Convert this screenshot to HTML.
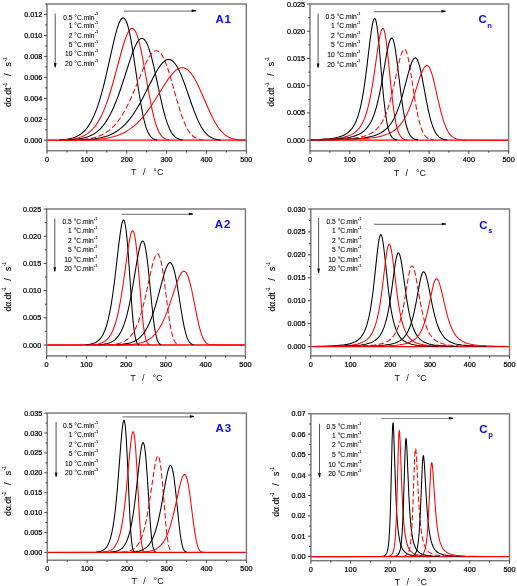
<!DOCTYPE html>
<html><head><meta charset="utf-8"><style>html,body{margin:0;padding:0;background:#fff;}svg{display:block;}text{white-space:pre;}</style></head>
<body><svg width="517" height="586" viewBox="0 0 517 586" font-family="Liberation Sans, Arial, sans-serif">
<rect width="517" height="586" fill="#fff"/>
<g id="A1"><line x1="47.0" y1="140.20" x2="246.3" y2="140.20" stroke="#f00" stroke-width="1.3"/>
<polyline points="58.96,139.90 65.34,139.40 68.13,138.99 70.52,138.52 72.71,137.94 74.90,137.20 76.89,136.34 78.89,135.28 80.68,134.12 82.48,132.73 84.07,131.27 85.66,129.57 87.26,127.60 88.65,125.65 90.25,123.10 91.64,120.59 94.23,115.15 96.63,109.14 99.02,102.12 101.61,93.36 103.80,85.03 105.99,75.98 113.96,40.67 115.56,34.28 117.15,28.61 118.75,23.91 119.55,21.99 120.34,20.40 121.14,19.18 121.74,18.51 122.53,17.98 123.13,17.86 123.73,17.99 124.13,18.22 124.93,19.03 125.72,20.30 126.52,22.04 127.32,24.26 128.12,26.93 128.91,30.06 129.91,34.56 131.30,41.88 132.90,51.45 138.48,89.22 140.67,102.98 142.86,114.70 144.06,120.05 145.06,123.92 146.25,127.85 147.45,131.06 148.64,133.61 150.04,135.85 151.43,137.44 153.03,138.64 154.82,139.43 157.01,139.91" fill="none" stroke="#000" stroke-width="1.05"/>
<polyline points="63.34,139.90 70.12,139.40 73.11,139.01 75.70,138.54 78.09,137.96 80.28,137.29 82.48,136.44 84.47,135.50 86.46,134.35 88.26,133.13 90.05,131.68 91.64,130.20 93.24,128.51 94.83,126.58 96.43,124.40 98.02,121.94 100.81,116.92 103.40,111.36 105.99,104.89 108.58,97.48 110.78,90.51 113.17,82.26 122.14,48.99 123.93,43.01 125.52,38.28 127.32,33.85 128.91,30.88 129.71,29.80 130.51,29.00 131.30,28.52 132.10,28.36 132.70,28.45 133.10,28.63 133.89,29.24 134.89,30.50 135.69,31.91 136.49,33.68 137.48,36.39 138.48,39.63 139.48,43.37 141.07,50.30 142.86,59.26 148.84,92.90 151.23,105.43 152.63,111.95 153.82,116.97 155.02,121.42 156.22,125.29 157.41,128.58 158.81,131.73 160.20,134.19 161.80,136.29 163.39,137.76 164.99,138.74 166.98,139.48 169.17,139.90" fill="none" stroke="#f00" stroke-width="1.05"/>
<polyline points="67.93,139.91 75.10,139.43 78.09,139.08 80.88,138.64 83.47,138.09 85.86,137.45 88.06,136.72 90.25,135.82 92.24,134.84 94.23,133.69 96.23,132.32 98.02,130.89 99.81,129.25 101.41,127.60 103.20,125.51 104.80,123.42 107.79,118.88 110.58,113.84 113.37,107.99 116.16,101.31 118.55,94.96 121.14,87.51 130.91,57.32 132.90,51.78 134.69,47.36 136.69,43.28 137.68,41.63 138.48,40.53 139.48,39.45 140.27,38.84 141.07,38.45 141.87,38.32 142.86,38.50 143.86,39.09 144.86,40.10 145.85,41.53 146.85,43.38 147.85,45.64 148.84,48.30 150.04,51.99 151.83,58.44 153.82,66.68 160.40,97.18 162.99,108.36 164.39,113.76 165.78,118.64 167.18,122.94 168.37,126.16 169.77,129.37 171.36,132.36 172.96,134.70 174.55,136.45 176.35,137.86 178.14,138.81 180.33,139.50 182.72,139.90" fill="none" stroke="#000" stroke-width="1.05"/>
<polyline points="74.90,139.90 82.28,139.46 88.45,138.74 91.24,138.25 93.84,137.68 96.23,137.02 98.62,136.22 100.81,135.34 103.00,134.31 105.20,133.09 107.19,131.81 109.18,130.35 110.98,128.86 112.77,127.19 114.56,125.33 117.75,121.51 120.94,117.00 124.13,111.76 127.32,105.78 130.11,99.97 132.90,93.69 143.66,67.83 146.05,62.66 148.05,58.83 150.24,55.31 151.43,53.75 152.43,52.67 153.43,51.81 154.42,51.18 155.42,50.80 156.42,50.68 157.61,50.89 158.81,51.49 159.80,52.30 161.00,53.65 162.20,55.40 163.39,57.55 164.59,60.08 165.78,62.96 167.78,68.49 169.97,75.42 177.54,102.26 180.53,112.11 182.13,116.83 183.72,121.09 185.31,124.85 186.71,127.73 188.30,130.54 190.10,133.14 191.89,135.18 193.68,136.73 195.68,137.98 197.87,138.90 200.26,139.52 203.05,139.90" fill="none" stroke="#f00" stroke-width="1.05" stroke-dasharray="5.5 2.5"/>
<polyline points="80.48,139.90 88.26,139.49 94.83,138.81 100.61,137.81 105.59,136.50 107.99,135.68 110.38,134.72 112.57,133.69 114.76,132.50 116.75,131.28 118.75,129.90 120.74,128.36 122.73,126.64 126.32,123.06 129.71,119.07 133.10,114.46 136.49,109.24 139.48,104.14 142.66,98.27 154.42,75.15 157.01,70.55 159.21,67.08 160.60,65.13 161.80,63.65 162.99,62.36 164.19,61.29 165.38,60.44 166.38,59.92 167.58,59.54 168.57,59.43 169.97,59.60 171.16,60.07 172.36,60.82 173.75,62.08 174.95,63.47 176.35,65.47 177.54,67.48 178.94,70.15 181.13,75.01 183.72,81.59 186.11,88.25 192.09,105.53 195.48,114.57 197.27,118.87 199.07,122.75 200.86,126.18 202.45,128.84 204.25,131.41 206.24,133.74 208.23,135.58 210.23,136.99 212.42,138.12 214.81,138.96 217.40,139.53 220.59,139.91" fill="none" stroke="#000" stroke-width="1.05"/>
<polyline points="47.00,140.20 69.92,140.16 82.48,140.01 92.24,139.66 100.01,139.07 103.80,138.61 107.39,138.04 110.58,137.40 113.77,136.60 116.75,135.69 119.55,134.67 122.34,133.47 124.93,132.18 129.11,129.67 131.30,128.13 133.30,126.58 137.28,123.05 141.27,118.89 143.46,116.34 145.85,113.33 150.44,106.99 155.02,99.99 165.58,83.04 168.37,78.92 170.96,75.47 172.56,73.57 174.15,71.89 175.55,70.62 176.94,69.55 178.34,68.71 179.73,68.11 181.13,67.76 182.32,67.67 183.72,67.82 185.11,68.26 186.51,68.99 187.91,70.01 189.30,71.31 190.70,72.90 192.09,74.75 193.68,77.19 196.28,81.78 199.07,87.46 201.66,93.22 208.63,109.32 210.82,114.09 212.82,118.14 215.01,122.21 217.00,125.52 219.00,128.44 221.19,131.17 223.58,133.61 225.97,135.54 228.56,137.10 231.15,138.22 234.14,139.07 237.33,139.62 241.12,139.96 246.30,140.14" fill="none" stroke="#f00" stroke-width="1.05"/>
<rect x="47.0" y="4.0" width="199.30" height="146.70" fill="none" stroke="#7c7c7c" stroke-width="1.5"/>
<path d="M47.00,150.7v3.0M66.93,150.7v1.8M86.86,150.7v3.0M106.79,150.7v1.8M126.72,150.7v3.0M146.65,150.7v1.8M166.58,150.7v3.0M186.51,150.7v1.8M206.44,150.7v3.0M226.37,150.7v1.8M246.30,150.7v3.0M47.0,140.20h-3.0M47.0,129.72h-1.8M47.0,119.25h-3.0M47.0,108.77h-1.8M47.0,98.29h-3.0M47.0,87.82h-1.8M47.0,77.34h-3.0M47.0,66.86h-1.8M47.0,56.38h-3.0M47.0,45.91h-1.8M47.0,35.43h-3.0M47.0,24.95h-1.8M47.0,14.48h-3.0M47.0,4.00h-1.8" stroke="#444" stroke-width="1.0" fill="none"/>
<g font-size="8.1" fill="#000" stroke="#000" stroke-width="0.25"><text transform="translate(47.00,161.90) scale(0.9,1)" text-anchor="middle">0</text><text transform="translate(86.86,161.90) scale(0.9,1)" text-anchor="middle">100</text><text transform="translate(126.72,161.90) scale(0.9,1)" text-anchor="middle">200</text><text transform="translate(166.58,161.90) scale(0.9,1)" text-anchor="middle">300</text><text transform="translate(206.44,161.90) scale(0.9,1)" text-anchor="middle">400</text><text transform="translate(246.30,161.90) scale(0.9,1)" text-anchor="middle">500</text><text transform="translate(42.40,142.70) scale(0.9,1)" text-anchor="end">0.000</text><text transform="translate(42.40,121.75) scale(0.9,1)" text-anchor="end">0.002</text><text transform="translate(42.40,100.79) scale(0.9,1)" text-anchor="end">0.004</text><text transform="translate(42.40,79.84) scale(0.9,1)" text-anchor="end">0.006</text><text transform="translate(42.40,58.88) scale(0.9,1)" text-anchor="end">0.008</text><text transform="translate(42.40,37.93) scale(0.9,1)" text-anchor="end">0.010</text><text transform="translate(42.40,16.98) scale(0.9,1)" text-anchor="end">0.012</text></g>
<g font-size="6.7" fill="#000" stroke="#000" stroke-width="0.08"><text x="94.50" y="19.50" text-anchor="end">0.5 °C.min</text><text x="94.70" y="15.20" font-size="3.9">-1</text><text x="94.50" y="28.20" text-anchor="end">1 °C.min</text><text x="94.70" y="23.90" font-size="3.9">-1</text><text x="94.50" y="37.50" text-anchor="end">2 °C.min</text><text x="94.70" y="33.20" font-size="3.9">-1</text><text x="94.50" y="46.80" text-anchor="end">5 °C.min</text><text x="94.70" y="42.50" font-size="3.9">-1</text><text x="94.50" y="56.30" text-anchor="end">10 °C.min</text><text x="94.70" y="52.00" font-size="3.9">-1</text><text x="94.50" y="65.90" text-anchor="end">20 °C.min</text><text x="94.70" y="61.60" font-size="3.9">-1</text></g>
<line x1="55.2" y1="13.5" x2="55.2" y2="63.7" stroke="#555" stroke-width="1.0"/><path d="M53.95,62.900000000000006L56.45,62.900000000000006L55.7,67.2L54.7,67.2Z" fill="#000"/>
<line x1="124.0" y1="11.10" x2="192.5" y2="11.10" stroke="#858585" stroke-width="1.2"/><path d="M191.7,9.55L191.7,12.05L196.0,11.3L196.0,10.3Z" fill="#000"/>
<text x="215.5" y="22.7" font-size="11.5" letter-spacing="0.8" font-weight="bold" fill="#0a0af5">A1</text>
<g font-size="9" fill="#111"><text x="131.10" y="175.2">T</text><text x="142.90" y="175.2">/</text><text x="153.30" y="175.2">°C</text></g>
<g transform="translate(11.20,107.00) rotate(-90)" fill="#000" stroke="#000" stroke-width="0.1" font-size="8.6"><text x="0" y="0">dα.dt</text><text x="19.9" y="-4.6" font-size="4.8">-1</text><text x="30.9" y="0">/</text><text x="40.6" y="0">s</text><text x="45.3" y="-4.6" font-size="4.8">-1</text></g></g>
<g id="Cn"><line x1="310.0" y1="140.20" x2="508.6" y2="140.20" stroke="#f00" stroke-width="1.3"/>
<polyline points="310.00,139.72 321.12,139.31 329.46,138.65 332.84,138.22 335.82,137.70 338.60,137.06 340.98,136.34 343.17,135.48 345.15,134.50 346.94,133.38 348.73,132.00 350.32,130.47 351.90,128.58 353.29,126.57 354.49,124.52 355.48,122.53 356.47,120.24 357.47,117.62 358.46,114.61 360.25,108.04 362.03,99.71 363.62,90.60 365.41,78.33 366.80,67.44 369.98,40.81 371.57,29.24 372.36,24.68 373.15,21.25 373.95,19.11 374.35,18.56 374.74,18.38 374.94,18.45 375.34,18.97 375.74,20.00 376.13,21.53 376.93,25.99 377.72,32.14 379.11,46.00 382.29,83.21 383.68,97.97 385.27,111.87 386.06,117.49 386.86,122.26 387.65,126.21 388.65,130.15 389.64,133.12 390.83,135.66 392.02,137.37 393.41,138.62 395.00,139.41 397.19,139.92" fill="none" stroke="#000" stroke-width="1.05"/>
<polyline points="310.00,139.81 322.71,139.46 332.24,138.90 336.22,138.51 339.59,138.06 342.57,137.52 345.35,136.87 347.93,136.08 350.32,135.13 352.30,134.12 354.29,132.86 356.08,131.45 357.66,129.92 359.25,128.06 360.64,126.09 361.83,124.11 363.03,121.80 364.22,119.12 365.21,116.55 367.20,110.33 368.98,103.29 370.77,94.68 372.56,84.40 374.35,72.61 377.72,48.73 379.31,38.90 380.30,34.03 381.10,31.11 381.69,29.56 382.09,28.86 382.49,28.44 382.89,28.30 383.28,28.50 383.68,29.10 384.08,30.10 384.48,31.48 385.27,35.32 386.06,40.46 387.65,53.76 391.03,87.15 392.62,101.43 394.21,113.27 395.00,118.17 395.99,123.34 396.99,127.53 397.98,130.85 399.17,133.84 400.36,135.98 401.75,137.65 403.14,138.71 404.93,139.48 407.12,139.92" fill="none" stroke="#f00" stroke-width="1.05"/>
<polyline points="310.00,139.87 324.70,139.56 335.42,139.07 343.56,138.34 346.94,137.87 350.12,137.28 352.90,136.61 355.48,135.80 357.86,134.85 360.05,133.74 362.03,132.49 363.82,131.11 365.61,129.43 367.20,127.61 368.59,125.72 369.78,123.84 370.97,121.69 372.16,119.21 373.35,116.36 374.35,113.67 375.54,110.03 376.53,106.61 378.52,98.64 380.50,89.10 382.29,79.29 386.26,55.91 388.05,46.86 389.04,42.93 390.04,40.05 390.63,38.90 391.03,38.38 391.43,38.08 391.82,38.00 392.22,38.18 392.62,38.67 393.01,39.46 393.61,41.19 394.41,44.46 395.40,49.93 396.99,61.13 400.56,90.65 402.35,104.17 403.34,110.71 404.34,116.46 405.13,120.47 406.12,124.76 407.12,128.29 408.31,131.65 409.50,134.19 410.89,136.31 412.28,137.74 413.87,138.79 415.66,139.47 418.04,139.91" fill="none" stroke="#000" stroke-width="1.05"/>
<polyline points="313.18,139.90 329.46,139.62 341.38,139.18 350.51,138.53 354.49,138.07 357.86,137.57 361.04,136.94 364.02,136.19 366.60,135.35 368.98,134.38 371.17,133.27 373.15,132.04 375.14,130.55 376.93,128.92 378.52,127.20 379.91,125.44 381.30,123.41 382.69,121.06 383.88,118.77 385.07,116.18 386.26,113.27 387.45,110.00 389.64,103.02 391.82,94.70 393.81,86.08 398.18,65.72 400.16,57.67 401.36,53.87 402.35,51.49 402.94,50.47 403.54,49.76 404.14,49.39 404.53,49.33 404.93,49.46 405.53,50.05 405.92,50.72 406.52,52.09 407.51,55.35 408.51,59.68 410.29,69.57 414.46,96.76 416.45,108.56 418.44,118.34 419.43,122.37 420.62,126.47 421.81,129.80 423.00,132.45 424.39,134.82 425.78,136.54 427.37,137.90 429.16,138.87 431.15,139.51 433.73,139.91" fill="none" stroke="#f00" stroke-width="1.05" stroke-dasharray="5.5 2.5"/>
<polyline points="317.55,139.90 334.63,139.63 347.34,139.21 357.07,138.58 361.24,138.16 364.81,137.69 368.19,137.11 371.37,136.42 374.15,135.64 376.73,134.74 379.11,133.71 381.30,132.55 383.28,131.28 385.27,129.76 386.86,128.32 388.45,126.65 390.04,124.71 391.43,122.76 392.82,120.54 394.01,118.39 395.40,115.59 396.59,112.89 398.97,106.65 401.55,98.56 403.74,90.73 408.51,72.49 410.69,65.25 411.88,62.11 413.07,59.75 413.67,58.91 414.26,58.30 414.86,57.94 415.46,57.83 415.85,57.92 416.45,58.37 417.05,59.17 417.64,60.31 418.63,62.93 419.83,67.14 420.82,71.39 422.01,77.17 426.38,100.64 428.56,111.33 429.76,116.43 430.95,120.92 431.94,124.19 433.13,127.56 434.52,130.77 435.91,133.30 437.30,135.24 438.89,136.87 440.48,138.01 442.47,138.94 444.65,139.54 447.23,139.90" fill="none" stroke="#000" stroke-width="1.05"/>
<polyline points="310.00,139.99 331.65,139.79 347.34,139.46 359.25,138.95 368.59,138.22 372.76,137.72 376.33,137.17 379.71,136.50 382.69,135.74 385.47,134.87 388.05,133.87 390.43,132.74 392.82,131.36 394.80,129.98 396.59,128.53 398.38,126.83 399.97,125.09 401.55,123.10 403.14,120.83 404.73,118.24 406.12,115.69 407.51,112.86 408.90,109.73 411.68,102.57 414.07,95.56 419.43,78.70 420.62,75.28 421.81,72.21 423.20,69.23 424.39,67.31 425.19,66.39 425.78,65.91 426.38,65.62 426.98,65.51 427.57,65.63 428.17,66.01 428.76,66.66 429.36,67.56 430.55,70.10 431.94,74.16 433.13,78.41 434.32,83.20 438.69,102.54 440.48,110.03 442.47,117.42 444.25,123.03 446.04,127.61 447.83,131.21 449.62,133.94 450.61,135.14 451.60,136.13 453.59,137.63 454.78,138.27 455.97,138.77 458.75,139.51 462.33,139.95 465.90,140.11 471.06,140.18 508.60,140.20" fill="none" stroke="#f00" stroke-width="1.05"/>
<rect x="310.0" y="4.0" width="198.60" height="146.90" fill="none" stroke="#7c7c7c" stroke-width="1.5"/>
<path d="M310.00,150.9v3.0M329.86,150.9v1.8M349.72,150.9v3.0M369.58,150.9v1.8M389.44,150.9v3.0M409.30,150.9v1.8M429.16,150.9v3.0M449.02,150.9v1.8M468.88,150.9v3.0M488.74,150.9v1.8M508.60,150.9v3.0M310.0,140.20h-3.0M310.0,126.58h-1.8M310.0,112.96h-3.0M310.0,99.34h-1.8M310.0,85.72h-3.0M310.0,72.10h-1.8M310.0,58.48h-3.0M310.0,44.86h-1.8M310.0,31.24h-3.0M310.0,17.62h-1.8M310.0,4.00h-3.0" stroke="#444" stroke-width="1.0" fill="none"/>
<g font-size="8.1" fill="#000" stroke="#000" stroke-width="0.25"><text transform="translate(310.00,162.10) scale(0.9,1)" text-anchor="middle">0</text><text transform="translate(349.72,162.10) scale(0.9,1)" text-anchor="middle">100</text><text transform="translate(389.44,162.10) scale(0.9,1)" text-anchor="middle">200</text><text transform="translate(429.16,162.10) scale(0.9,1)" text-anchor="middle">300</text><text transform="translate(468.88,162.10) scale(0.9,1)" text-anchor="middle">400</text><text transform="translate(508.60,162.10) scale(0.9,1)" text-anchor="middle">500</text><text transform="translate(305.10,142.70) scale(0.9,1)" text-anchor="end">0.000</text><text transform="translate(305.10,115.46) scale(0.9,1)" text-anchor="end">0.005</text><text transform="translate(305.10,88.22) scale(0.9,1)" text-anchor="end">0.010</text><text transform="translate(305.10,60.98) scale(0.9,1)" text-anchor="end">0.015</text><text transform="translate(305.10,33.74) scale(0.9,1)" text-anchor="end">0.020</text><text transform="translate(305.10,6.50) scale(0.9,1)" text-anchor="end">0.025</text></g>
<g font-size="6.7" fill="#000" stroke="#000" stroke-width="0.08"><text x="356.80" y="18.90" text-anchor="end">0.5 °C.min</text><text x="357.00" y="14.60" font-size="3.9">-1</text><text x="356.80" y="28.20" text-anchor="end">1 °C.min</text><text x="357.00" y="23.90" font-size="3.9">-1</text><text x="356.80" y="37.80" text-anchor="end">2 °C.min</text><text x="357.00" y="33.50" font-size="3.9">-1</text><text x="356.80" y="47.30" text-anchor="end">5 °C.min</text><text x="357.00" y="43.00" font-size="3.9">-1</text><text x="356.80" y="56.90" text-anchor="end">10 °C.min</text><text x="357.00" y="52.60" font-size="3.9">-1</text><text x="356.80" y="66.50" text-anchor="end">20 °C.min</text><text x="357.00" y="62.20" font-size="3.9">-1</text></g>
<line x1="318.1" y1="13.6" x2="318.1" y2="64.2" stroke="#555" stroke-width="1.0"/><path d="M316.85,63.400000000000006L319.35,63.400000000000006L318.6,67.7L317.6,67.7Z" fill="#000"/>
<line x1="373.8" y1="11.60" x2="442.2" y2="11.60" stroke="#858585" stroke-width="1.2"/><path d="M441.4,10.05L441.4,12.55L445.7,11.8L445.7,10.8Z" fill="#000"/>
<text x="478.4" y="23.3" font-size="11.4" font-weight="bold" fill="#0a0af5">C<tspan font-size="7.6" dx="0.6" dy="4.4">n</tspan></text>
<g font-size="9" fill="#111"><text x="393.80" y="175.5">T</text><text x="405.60" y="175.5">/</text><text x="416.00" y="175.5">°C</text></g>
<g transform="translate(273.90,106.80) rotate(-90)" fill="#000" stroke="#000" stroke-width="0.1" font-size="8.6"><text x="0" y="0">dα.dt</text><text x="19.9" y="-4.6" font-size="4.8">-1</text><text x="30.9" y="0">/</text><text x="40.6" y="0">s</text><text x="45.3" y="-4.6" font-size="4.8">-1</text></g></g>
<g id="A2"><line x1="46.6" y1="345.00" x2="245.4" y2="345.00" stroke="#f00" stroke-width="1.3"/>
<polyline points="85.56,344.71 89.94,344.22 91.73,343.85 93.52,343.33 95.11,342.69 96.50,341.95 97.69,341.14 98.88,340.14 100.08,338.90 101.07,337.65 102.07,336.17 103.06,334.43 104.85,330.49 106.64,325.29 108.23,319.39 109.62,313.08 111.01,305.56 112.40,296.79 114.59,280.50 118.96,242.92 120.75,229.67 121.55,225.18 122.14,222.62 122.54,221.36 122.94,220.48 123.34,220.03 123.54,219.97 123.93,220.19 124.33,220.90 124.73,222.10 125.13,223.81 125.92,228.76 126.92,237.73 128.31,254.74 132.08,309.40 133.08,320.88 134.07,329.85 135.07,336.26 135.66,338.99 136.26,341.03 136.86,342.47 137.45,343.46 138.25,344.26 139.24,344.74" fill="none" stroke="#000" stroke-width="1.05"/>
<polyline points="91.73,344.71 96.30,344.25 98.29,343.90 100.08,343.44 101.67,342.89 103.26,342.17 104.65,341.36 105.84,340.50 107.04,339.45 108.23,338.19 109.42,336.66 110.41,335.16 111.41,333.42 112.40,331.41 114.19,327.00 115.78,322.10 117.37,316.12 118.96,308.96 120.55,300.52 123.14,284.21 127.91,249.93 129.70,239.12 130.49,235.44 131.29,232.71 131.69,231.76 132.08,231.11 132.48,230.79 132.68,230.75 133.08,230.95 133.28,231.19 133.67,231.93 134.47,234.58 135.26,238.78 136.26,246.14 137.05,253.57 138.05,264.43 141.83,310.26 143.02,322.04 144.01,329.80 145.20,336.54 145.80,338.95 146.40,340.80 146.99,342.17 147.79,343.42 148.78,344.31 149.78,344.73" fill="none" stroke="#f00" stroke-width="1.05"/>
<polyline points="98.49,344.71 103.46,344.26 107.23,343.53 109.02,343.00 110.61,342.38 112.01,341.69 113.40,340.85 114.79,339.80 115.98,338.72 117.17,337.45 118.37,335.94 119.56,334.16 120.55,332.45 122.54,328.31 124.33,323.63 125.92,318.59 127.71,311.84 129.30,304.82 131.89,291.43 137.05,260.59 138.25,254.06 139.24,249.29 140.23,245.38 141.03,243.04 141.83,241.55 142.22,241.14 142.62,241.00 143.02,241.11 143.22,241.27 143.61,241.79 144.21,243.11 144.61,244.35 145.60,248.74 146.60,254.89 147.39,260.97 148.39,269.77 151.77,304.07 152.96,315.23 154.15,324.72 155.34,332.16 156.54,337.51 157.13,339.47 157.93,341.45 158.72,342.83 159.52,343.74 160.51,344.41 161.51,344.75" fill="none" stroke="#000" stroke-width="1.05"/>
<polyline points="108.43,344.71 113.79,344.27 117.97,343.59 119.76,343.14 121.55,342.56 123.14,341.91 124.73,341.11 126.12,340.26 127.51,339.24 128.90,338.02 130.10,336.80 131.29,335.40 132.48,333.78 134.67,330.20 136.66,326.13 138.45,321.72 140.43,315.89 142.22,309.77 145.01,298.67 151.17,270.34 152.36,265.32 153.55,260.90 154.55,257.86 155.54,255.56 156.14,254.59 156.54,254.13 156.93,253.83 157.33,253.71 157.93,253.85 158.52,254.41 159.12,255.39 159.72,256.82 160.31,258.69 160.91,261.00 162.10,266.87 163.10,272.91 164.09,279.82 167.67,307.75 169.06,317.86 170.45,326.50 171.84,333.30 172.44,335.62 173.24,338.20 174.03,340.21 174.83,341.74 175.62,342.86 176.62,343.80 177.61,344.37 178.80,344.73" fill="none" stroke="#f00" stroke-width="1.05" stroke-dasharray="5.5 2.5"/>
<polyline points="116.78,344.70 122.34,344.30 126.92,343.64 130.69,342.71 132.48,342.08 134.07,341.40 135.66,340.58 137.25,339.59 138.64,338.57 140.04,337.37 141.43,335.98 142.62,334.62 145.01,331.35 147.19,327.62 149.18,323.53 151.37,318.21 153.36,312.58 155.14,306.89 156.93,300.66 163.30,276.77 164.49,272.75 165.68,269.19 166.87,266.25 168.07,264.10 169.06,263.03 169.66,262.74 170.05,262.70 170.45,262.79 170.85,263.02 171.45,263.62 172.04,264.53 172.64,265.77 173.83,269.21 175.22,274.77 176.22,279.66 177.41,286.35 181.39,311.47 182.78,319.70 184.37,327.81 185.96,334.19 186.75,336.70 187.55,338.77 188.34,340.44 189.14,341.75 190.13,342.95 191.13,343.77 192.32,344.37 193.51,344.71" fill="none" stroke="#000" stroke-width="1.05"/>
<polyline points="46.60,345.00 109.82,344.98 119.56,344.88 126.52,344.67 133.28,344.17 136.26,343.78 138.84,343.30 141.23,342.72 143.42,342.03 145.40,341.24 147.39,340.27 149.38,339.08 151.37,337.62 153.16,336.05 154.95,334.20 156.74,332.04 158.33,329.81 159.92,327.28 161.51,324.43 163.10,321.23 164.49,318.15 167.47,310.65 170.25,302.70 176.02,285.11 177.41,281.22 178.60,278.20 179.99,275.21 181.39,272.93 182.18,272.01 182.78,271.53 183.37,271.25 183.97,271.16 184.77,271.37 185.36,271.79 185.96,272.43 186.56,273.30 187.75,275.74 189.14,279.73 190.33,284.06 191.72,290.00 197.29,317.86 198.48,323.34 199.68,328.24 201.07,333.10 202.46,336.97 203.85,339.87 205.24,341.91 206.44,343.11 207.83,344.00 209.42,344.56 211.60,344.88 215.98,345.00 245.40,345.00" fill="none" stroke="#f00" stroke-width="1.05"/>
<rect x="46.6" y="209.0" width="198.80" height="146.90" fill="none" stroke="#7c7c7c" stroke-width="1.5"/>
<path d="M46.60,355.9v3.0M66.48,355.9v1.8M86.36,355.9v3.0M106.24,355.9v1.8M126.12,355.9v3.0M146.00,355.9v1.8M165.88,355.9v3.0M185.76,355.9v1.8M205.64,355.9v3.0M225.52,355.9v1.8M245.40,355.9v3.0M46.6,345.00h-3.0M46.6,331.40h-1.8M46.6,317.80h-3.0M46.6,304.20h-1.8M46.6,290.60h-3.0M46.6,277.00h-1.8M46.6,263.40h-3.0M46.6,249.80h-1.8M46.6,236.20h-3.0M46.6,222.60h-1.8M46.6,209.00h-3.0" stroke="#444" stroke-width="1.0" fill="none"/>
<g font-size="8.1" fill="#000" stroke="#000" stroke-width="0.25"><text transform="translate(46.60,367.10) scale(0.9,1)" text-anchor="middle">0</text><text transform="translate(86.36,367.10) scale(0.9,1)" text-anchor="middle">100</text><text transform="translate(126.12,367.10) scale(0.9,1)" text-anchor="middle">200</text><text transform="translate(165.88,367.10) scale(0.9,1)" text-anchor="middle">300</text><text transform="translate(205.64,367.10) scale(0.9,1)" text-anchor="middle">400</text><text transform="translate(245.40,367.10) scale(0.9,1)" text-anchor="middle">500</text><text transform="translate(41.20,347.50) scale(0.9,1)" text-anchor="end">0.000</text><text transform="translate(41.20,320.30) scale(0.9,1)" text-anchor="end">0.005</text><text transform="translate(41.20,293.10) scale(0.9,1)" text-anchor="end">0.010</text><text transform="translate(41.20,265.90) scale(0.9,1)" text-anchor="end">0.015</text><text transform="translate(41.20,238.70) scale(0.9,1)" text-anchor="end">0.020</text><text transform="translate(41.20,211.50) scale(0.9,1)" text-anchor="end">0.025</text></g>
<g font-size="6.7" fill="#000" stroke="#000" stroke-width="0.08"><text x="93.80" y="223.90" text-anchor="end">0.5 °C.min</text><text x="94.00" y="219.60" font-size="3.9">-1</text><text x="93.80" y="233.20" text-anchor="end">1 °C.min</text><text x="94.00" y="228.90" font-size="3.9">-1</text><text x="93.80" y="242.80" text-anchor="end">2 °C.min</text><text x="94.00" y="238.50" font-size="3.9">-1</text><text x="93.80" y="252.30" text-anchor="end">5 °C.min</text><text x="94.00" y="248.00" font-size="3.9">-1</text><text x="93.80" y="261.90" text-anchor="end">10 °C.min</text><text x="94.00" y="257.60" font-size="3.9">-1</text><text x="93.80" y="271.20" text-anchor="end">20 °C.min</text><text x="94.00" y="266.90" font-size="3.9">-1</text></g>
<line x1="54.8" y1="218.6" x2="54.8" y2="268.0" stroke="#555" stroke-width="1.0"/><path d="M53.55,267.2L56.05,267.2L55.3,271.5L54.3,271.5Z" fill="#000"/>
<line x1="121.6" y1="214.30" x2="189.6" y2="214.30" stroke="#858585" stroke-width="1.2"/><path d="M188.79999999999998,212.75L188.79999999999998,215.25L193.1,214.5L193.1,213.5Z" fill="#000"/>
<text x="214.8" y="228.20000000000002" font-size="11.5" letter-spacing="0.8" font-weight="bold" fill="#0a0af5">A2</text>
<g font-size="9" fill="#111"><text x="130.30" y="380.5">T</text><text x="142.10" y="380.5">/</text><text x="152.50" y="380.5">°C</text></g>
<g transform="translate(10.50,311.60) rotate(-90)" fill="#000" stroke="#000" stroke-width="0.1" font-size="8.6"><text x="0" y="0">dα.dt</text><text x="19.9" y="-4.6" font-size="4.8">-1</text><text x="30.9" y="0">/</text><text x="40.6" y="0">s</text><text x="45.3" y="-4.6" font-size="4.8">-1</text></g></g>
<g id="Cs"><line x1="310.8" y1="346.60" x2="509.5" y2="346.60" stroke="#f00" stroke-width="1.3"/>
<polyline points="315.77,346.30 328.48,346.01 337.62,345.54 344.38,344.83 347.16,344.37 349.75,343.78 351.93,343.12 353.92,342.35 355.71,341.45 357.49,340.30 359.08,339.01 360.48,337.59 361.87,335.84 363.06,333.99 364.25,331.76 365.24,329.52 366.24,326.89 367.03,324.44 368.62,318.44 370.21,310.65 371.80,300.70 373.19,290.05 374.38,279.58 376.97,255.07 378.16,245.11 378.95,239.91 379.55,237.06 380.15,235.26 380.54,234.69 380.74,234.60 380.94,234.63 381.34,235.09 381.93,236.70 382.53,239.35 383.33,244.29 384.52,253.97 388.49,290.89 389.88,301.64 391.27,310.56 392.66,317.78 394.25,324.23 395.84,329.14 396.64,331.13 397.63,333.27 398.82,335.40 400.02,337.14 401.21,338.57 402.60,339.93 403.99,341.02 405.58,342.01 407.37,342.88 409.36,343.62 411.54,344.24 413.93,344.74 416.71,345.17 419.69,345.50 427.24,345.99 437.97,346.30" fill="none" stroke="#000" stroke-width="1.05"/>
<polyline points="324.11,346.30 336.63,346.02 345.57,345.57 352.33,344.90 355.11,344.46 357.69,343.90 360.08,343.22 362.06,342.48 363.85,341.63 365.64,340.55 367.23,339.33 368.62,338.00 370.01,336.36 371.20,334.65 372.40,332.58 373.39,330.53 374.38,328.12 375.18,325.89 376.77,320.46 378.36,313.47 379.95,304.61 381.34,295.17 382.73,284.30 385.51,260.94 386.70,252.43 387.50,248.12 388.09,245.83 388.69,244.47 389.09,244.11 389.29,244.10 389.49,244.19 389.88,244.70 390.28,245.61 390.68,246.93 391.27,249.58 392.07,254.22 393.26,262.93 397.23,295.26 398.63,304.74 400.02,312.70 401.61,320.03 403.20,325.74 403.99,328.09 404.98,330.62 406.77,334.26 407.96,336.15 409.16,337.71 410.35,339.01 411.74,340.24 413.33,341.37 414.92,342.27 416.71,343.06 418.89,343.80 421.08,344.36 423.46,344.82 429.42,345.55 436.97,346.01 447.51,346.30" fill="none" stroke="#f00" stroke-width="1.05"/>
<polyline points="333.05,346.30 345.37,346.03 354.32,345.60 361.07,344.95 363.85,344.53 366.44,344.00 368.82,343.36 370.81,342.67 372.60,341.87 374.38,340.86 375.97,339.74 377.36,338.52 378.76,337.02 379.95,335.47 381.14,333.60 382.13,331.76 383.92,327.62 385.71,322.13 387.30,315.81 388.89,307.87 390.28,299.48 391.67,289.86 394.45,269.13 395.64,261.41 396.44,257.35 397.04,255.08 397.43,254.00 397.83,253.27 398.23,252.93 398.43,252.90 398.63,252.96 399.02,253.34 399.42,254.07 399.82,255.13 400.41,257.30 401.21,261.15 402.60,269.84 406.77,299.42 408.36,308.83 409.75,315.71 411.34,322.11 412.93,327.16 414.72,331.53 415.71,333.48 416.71,335.14 417.90,336.83 419.09,338.23 420.48,339.58 421.87,340.68 423.46,341.69 425.05,342.50 427.04,343.30 429.03,343.91 431.21,344.43 433.80,344.90 439.76,345.57 447.51,346.02 458.04,346.30" fill="none" stroke="#000" stroke-width="1.05"/>
<polyline points="346.76,346.30 358.69,346.04 367.43,345.64 374.19,345.04 379.35,344.20 381.74,343.63 383.72,343.01 385.51,342.31 387.30,341.44 388.89,340.46 390.48,339.25 391.87,337.94 393.06,336.58 394.25,334.97 395.25,333.39 396.24,331.56 397.23,329.42 399.02,324.69 400.61,319.30 402.20,312.62 403.59,305.64 404.98,297.69 407.77,280.57 409.16,273.08 409.95,269.73 410.55,267.82 410.94,266.88 411.34,266.22 411.74,265.86 411.94,265.79 412.34,265.87 412.73,266.21 413.53,267.66 414.32,270.06 415.12,273.26 416.51,280.30 419.69,298.83 421.08,306.38 422.67,313.94 424.06,319.53 425.65,324.81 427.44,329.51 429.23,333.14 430.22,334.78 431.21,336.20 432.40,337.65 433.80,339.05 435.19,340.21 436.58,341.16 438.17,342.04 439.96,342.84 441.94,343.54 443.93,344.08 448.70,344.97 454.86,345.61 462.61,346.03 473.14,346.30" fill="none" stroke="#f00" stroke-width="1.05" stroke-dasharray="5.5 2.5"/>
<polyline points="357.69,346.30 369.42,346.05 378.16,345.66 384.92,345.09 390.28,344.27 392.66,343.73 394.65,343.15 396.64,342.42 398.43,341.59 400.02,340.67 401.61,339.53 403.00,338.31 404.19,337.06 405.38,335.57 406.37,334.13 407.37,332.46 408.36,330.53 410.15,326.27 411.74,321.48 413.33,315.57 414.92,308.48 416.31,301.38 419.29,285.05 420.68,278.43 421.48,275.45 422.27,273.28 422.67,272.54 423.07,272.05 423.66,271.79 424.06,271.92 424.46,272.27 425.25,273.61 426.05,275.72 426.84,278.51 428.43,285.57 431.61,301.84 433.20,309.43 434.79,316.07 436.38,321.69 437.97,326.32 439.76,330.49 441.74,334.07 443.73,336.79 444.92,338.10 446.31,339.37 447.70,340.43 449.29,341.42 451.08,342.32 452.87,343.03 454.86,343.67 457.04,344.21 462.01,345.05 468.17,345.64 476.12,346.04 486.65,346.30" fill="none" stroke="#000" stroke-width="1.05"/>
<polyline points="310.80,346.56 364.25,346.37 378.56,346.14 388.69,345.78 396.64,345.19 399.82,344.80 402.80,344.31 405.38,343.74 407.77,343.04 409.75,342.29 411.74,341.33 413.53,340.23 415.12,339.02 416.71,337.51 418.10,335.89 419.49,333.93 420.68,331.92 421.87,329.54 423.07,326.74 425.05,320.99 427.04,313.71 428.83,305.91 432.21,289.85 433.60,284.25 434.39,281.77 435.19,279.98 435.58,279.38 435.98,278.99 436.58,278.81 436.97,278.94 437.37,279.24 438.17,280.35 438.96,282.10 439.96,285.06 441.54,291.11 444.92,305.92 446.51,312.44 448.30,318.88 450.09,324.27 451.88,328.66 453.86,332.50 454.86,334.09 456.05,335.74 457.24,337.14 458.43,338.35 459.82,339.54 461.41,340.66 463.00,341.57 464.79,342.41 466.78,343.15 468.77,343.74 470.95,344.25 473.54,344.72 479.30,345.41 486.65,345.89 496.19,346.20 509.50,346.40" fill="none" stroke="#f00" stroke-width="1.05"/>
<rect x="310.8" y="209.0" width="198.70" height="146.90" fill="none" stroke="#7c7c7c" stroke-width="1.5"/>
<path d="M310.80,355.9v3.0M330.67,355.9v1.8M350.54,355.9v3.0M370.41,355.9v1.8M390.28,355.9v3.0M410.15,355.9v1.8M430.02,355.9v3.0M449.89,355.9v1.8M469.76,355.9v3.0M489.63,355.9v1.8M509.50,355.9v3.0M310.8,346.60h-3.0M310.8,335.13h-1.8M310.8,323.67h-3.0M310.8,312.20h-1.8M310.8,300.73h-3.0M310.8,289.27h-1.8M310.8,277.80h-3.0M310.8,266.33h-1.8M310.8,254.87h-3.0M310.8,243.40h-1.8M310.8,231.93h-3.0M310.8,220.47h-1.8M310.8,209.00h-3.0" stroke="#444" stroke-width="1.0" fill="none"/>
<g font-size="8.1" fill="#000" stroke="#000" stroke-width="0.25"><text transform="translate(310.80,367.10) scale(0.9,1)" text-anchor="middle">0</text><text transform="translate(350.54,367.10) scale(0.9,1)" text-anchor="middle">100</text><text transform="translate(390.28,367.10) scale(0.9,1)" text-anchor="middle">200</text><text transform="translate(430.02,367.10) scale(0.9,1)" text-anchor="middle">300</text><text transform="translate(469.76,367.10) scale(0.9,1)" text-anchor="middle">400</text><text transform="translate(509.50,367.10) scale(0.9,1)" text-anchor="middle">500</text><text transform="translate(305.60,349.10) scale(0.9,1)" text-anchor="end">0.000</text><text transform="translate(305.60,326.17) scale(0.9,1)" text-anchor="end">0.005</text><text transform="translate(305.60,303.23) scale(0.9,1)" text-anchor="end">0.010</text><text transform="translate(305.60,280.30) scale(0.9,1)" text-anchor="end">0.015</text><text transform="translate(305.60,257.37) scale(0.9,1)" text-anchor="end">0.020</text><text transform="translate(305.60,234.43) scale(0.9,1)" text-anchor="end">0.025</text><text transform="translate(305.60,211.50) scale(0.9,1)" text-anchor="end">0.030</text></g>
<g font-size="6.7" fill="#000" stroke="#000" stroke-width="0.08"><text x="357.80" y="223.90" text-anchor="end">0.5 °C.min</text><text x="358.00" y="219.60" font-size="3.9">-1</text><text x="357.80" y="233.20" text-anchor="end">1 °C.min</text><text x="358.00" y="228.90" font-size="3.9">-1</text><text x="357.80" y="242.80" text-anchor="end">2 °C.min</text><text x="358.00" y="238.50" font-size="3.9">-1</text><text x="357.80" y="252.30" text-anchor="end">5 °C.min</text><text x="358.00" y="248.00" font-size="3.9">-1</text><text x="357.80" y="261.90" text-anchor="end">10 °C.min</text><text x="358.00" y="257.60" font-size="3.9">-1</text><text x="357.80" y="271.20" text-anchor="end">20 °C.min</text><text x="358.00" y="266.90" font-size="3.9">-1</text></g>
<line x1="318.6" y1="218.1" x2="318.6" y2="269.2" stroke="#555" stroke-width="1.0"/><path d="M317.35,268.4L319.85,268.4L319.1,272.7L318.1,272.7Z" fill="#000"/>
<line x1="374.1" y1="224.30" x2="442.5" y2="224.30" stroke="#858585" stroke-width="1.2"/><path d="M441.7,222.75L441.7,225.25L446.0,224.5L446.0,223.5Z" fill="#000"/>
<text x="479.29999999999995" y="228.60000000000002" font-size="11.4" font-weight="bold" fill="#0a0af5">C<tspan font-size="7.6" dx="0.6" dy="4.4">s</tspan></text>
<g font-size="9" fill="#111"><text x="394.50" y="380.5">T</text><text x="406.30" y="380.5">/</text><text x="416.70" y="380.5">°C</text></g>
<g transform="translate(275.00,311.60) rotate(-90)" fill="#000" stroke="#000" stroke-width="0.1" font-size="8.6"><text x="0" y="0">dα.dt</text><text x="19.9" y="-4.6" font-size="4.8">-1</text><text x="30.9" y="0">/</text><text x="40.6" y="0">s</text><text x="45.3" y="-4.6" font-size="4.8">-1</text></g></g>
<g id="A3"><line x1="47.3" y1="552.40" x2="246.4" y2="552.40" stroke="#f00" stroke-width="1.3"/>
<polyline points="96.08,552.11 98.07,551.88 99.66,551.58 101.06,551.18 102.25,550.70 103.45,550.05 104.44,549.33 105.44,548.41 106.23,547.49 107.03,546.37 107.83,545.01 108.62,543.37 109.42,541.39 110.81,536.96 112.01,531.92 113.00,526.66 113.80,521.65 114.79,514.26 115.59,507.38 116.59,497.51 117.58,486.29 120.77,445.14 121.76,433.51 122.36,427.79 122.96,423.46 123.56,420.87 123.75,420.46 123.95,420.30 124.15,420.39 124.35,420.75 124.55,421.38 125.15,424.98 125.75,431.18 126.34,439.91 127.34,459.21 129.73,513.57 130.52,528.02 131.12,536.40 131.72,542.61 132.51,547.90 132.91,549.53 133.31,550.64 133.91,551.63 134.51,552.10" fill="none" stroke="#000" stroke-width="1.05"/>
<polyline points="103.05,552.11 106.63,551.64 108.03,551.31 109.42,550.85 110.61,550.30 111.81,549.58 112.80,548.81 113.80,547.84 114.79,546.63 115.59,545.45 117.18,542.38 118.58,538.73 119.97,533.89 120.97,529.57 121.96,524.39 122.96,518.27 123.95,511.11 124.95,502.89 126.14,491.64 129.53,455.07 130.72,443.41 131.32,438.65 131.92,434.95 132.51,432.55 132.91,431.80 133.11,431.70 133.31,431.80 133.51,432.10 133.71,432.61 134.31,435.44 134.90,440.25 135.70,449.66 136.70,465.58 139.48,518.14 140.28,530.06 140.88,537.12 141.67,543.99 142.47,548.29 142.87,549.66 143.47,551.01 144.06,551.75 144.66,552.13" fill="none" stroke="#f00" stroke-width="1.05"/>
<polyline points="110.61,552.11 114.60,551.63 116.19,551.28 117.58,550.85 118.78,550.36 119.97,549.73 121.17,548.92 122.16,548.07 123.16,547.02 124.15,545.75 125.15,544.20 125.94,542.73 127.54,539.03 128.93,534.80 130.13,530.28 131.12,525.78 132.12,520.54 133.11,514.53 134.31,506.23 135.50,496.82 139.28,462.91 140.48,453.30 141.28,448.14 141.87,445.21 142.47,443.29 142.87,442.64 143.07,442.53 143.27,442.57 143.47,442.75 143.86,443.59 144.46,446.07 145.06,450.04 145.85,457.61 147.05,473.16 150.04,519.86 150.83,530.05 151.63,538.14 152.42,544.03 152.82,546.20 153.42,548.64 153.82,549.79 154.42,550.97 155.01,551.68 155.81,552.14" fill="none" stroke="#000" stroke-width="1.05"/>
<polyline points="121.76,552.11 125.94,551.68 129.13,550.99 130.52,550.53 131.92,549.94 133.11,549.28 134.31,548.47 135.50,547.46 136.50,546.44 137.49,545.22 138.49,543.78 140.28,540.52 141.87,536.73 143.27,532.57 144.66,527.52 146.05,521.46 147.45,514.34 149.84,499.72 153.82,472.06 155.41,462.76 156.21,459.31 156.81,457.43 157.40,456.29 157.80,455.98 158.00,455.97 158.40,456.26 158.80,456.97 159.19,458.11 159.59,459.70 160.39,464.22 161.19,470.46 162.58,484.84 165.76,523.24 166.76,533.03 167.56,539.29 168.55,545.03 169.55,548.70 170.14,550.09 170.74,551.03 171.54,551.77 172.33,552.14" fill="none" stroke="#f00" stroke-width="1.05" stroke-dasharray="5.5 2.5"/>
<polyline points="131.12,552.11 135.50,551.71 139.09,551.04 142.07,550.05 143.47,549.39 144.66,548.68 145.85,547.83 147.05,546.79 149.04,544.58 150.04,543.19 151.03,541.59 152.82,538.07 154.42,534.13 155.81,529.98 157.40,524.32 158.80,518.52 160.99,507.87 165.76,480.97 167.56,472.26 168.35,469.27 169.15,467.04 169.55,466.27 169.95,465.75 170.34,465.49 170.54,465.47 170.94,465.65 171.14,465.86 171.54,466.50 172.33,468.75 173.13,472.30 174.13,478.51 175.72,491.87 179.30,526.79 180.30,534.69 181.29,540.99 182.29,545.60 182.89,547.63 183.48,549.16 184.08,550.28 184.88,551.27 185.67,551.84 186.47,552.15" fill="none" stroke="#000" stroke-width="1.05"/>
<polyline points="47.30,552.40 123.95,552.39 138.69,552.23 144.66,551.88 149.24,551.26 151.23,550.80 153.02,550.26 154.61,549.63 156.21,548.84 158.00,547.69 159.79,546.21 161.38,544.55 162.78,542.78 164.17,540.66 165.57,538.15 166.96,535.18 168.15,532.24 169.35,528.90 170.54,525.15 172.93,516.39 174.92,507.94 179.10,488.78 180.90,481.58 181.89,478.38 182.89,476.00 183.68,474.83 184.08,474.53 184.48,474.42 185.08,474.65 185.48,475.08 186.27,476.64 187.07,479.12 188.06,483.53 188.86,488.03 189.86,494.69 193.64,524.44 195.43,536.45 196.43,541.58 197.42,545.50 198.42,548.29 199.01,549.50 199.61,550.41 200.41,551.26 201.40,551.87 202.60,552.22 204.19,552.37 246.40,552.40" fill="none" stroke="#f00" stroke-width="1.05"/>
<rect x="47.3" y="413.1" width="199.10" height="147.10" fill="none" stroke="#7c7c7c" stroke-width="1.5"/>
<path d="M47.30,560.2v3.0M67.21,560.2v1.8M87.12,560.2v3.0M107.03,560.2v1.8M126.94,560.2v3.0M146.85,560.2v1.8M166.76,560.2v3.0M186.67,560.2v1.8M206.58,560.2v3.0M226.49,560.2v1.8M246.40,560.2v3.0M47.3,552.40h-3.0M47.3,542.45h-1.8M47.3,532.50h-3.0M47.3,522.55h-1.8M47.3,512.60h-3.0M47.3,502.65h-1.8M47.3,492.70h-3.0M47.3,482.75h-1.8M47.3,472.80h-3.0M47.3,462.85h-1.8M47.3,452.90h-3.0M47.3,442.95h-1.8M47.3,433.00h-3.0M47.3,423.05h-1.8M47.3,413.10h-3.0" stroke="#444" stroke-width="1.0" fill="none"/>
<g font-size="8.1" fill="#000" stroke="#000" stroke-width="0.25"><text transform="translate(47.30,571.40) scale(0.9,1)" text-anchor="middle">0</text><text transform="translate(87.12,571.40) scale(0.9,1)" text-anchor="middle">100</text><text transform="translate(126.94,571.40) scale(0.9,1)" text-anchor="middle">200</text><text transform="translate(166.76,571.40) scale(0.9,1)" text-anchor="middle">300</text><text transform="translate(206.58,571.40) scale(0.9,1)" text-anchor="middle">400</text><text transform="translate(246.40,571.40) scale(0.9,1)" text-anchor="middle">500</text><text transform="translate(42.40,554.90) scale(0.9,1)" text-anchor="end">0.000</text><text transform="translate(42.40,535.00) scale(0.9,1)" text-anchor="end">0.005</text><text transform="translate(42.40,515.10) scale(0.9,1)" text-anchor="end">0.010</text><text transform="translate(42.40,495.20) scale(0.9,1)" text-anchor="end">0.015</text><text transform="translate(42.40,475.30) scale(0.9,1)" text-anchor="end">0.020</text><text transform="translate(42.40,455.40) scale(0.9,1)" text-anchor="end">0.025</text><text transform="translate(42.40,435.50) scale(0.9,1)" text-anchor="end">0.030</text><text transform="translate(42.40,415.60) scale(0.9,1)" text-anchor="end">0.035</text></g>
<g font-size="6.7" fill="#000" stroke="#000" stroke-width="0.08"><text x="94.40" y="427.90" text-anchor="end">0.5 °C.min</text><text x="94.60" y="423.60" font-size="3.9">-1</text><text x="94.40" y="437.20" text-anchor="end">1 °C.min</text><text x="94.60" y="432.90" font-size="3.9">-1</text><text x="94.40" y="447.00" text-anchor="end">2 °C.min</text><text x="94.60" y="442.70" font-size="3.9">-1</text><text x="94.40" y="456.30" text-anchor="end">5 °C.min</text><text x="94.60" y="452.00" font-size="3.9">-1</text><text x="94.40" y="465.90" text-anchor="end">10 °C.min</text><text x="94.60" y="461.60" font-size="3.9">-1</text><text x="94.40" y="475.20" text-anchor="end">20 °C.min</text><text x="94.60" y="470.90" font-size="3.9">-1</text></g>
<line x1="56.1" y1="422.1" x2="56.1" y2="473.2" stroke="#555" stroke-width="1.0"/><path d="M54.85,472.4L57.35,472.4L56.6,476.7L55.6,476.7Z" fill="#000"/>
<line x1="122.4" y1="416.90" x2="190.6" y2="416.90" stroke="#858585" stroke-width="1.2"/><path d="M189.79999999999998,415.35L189.79999999999998,417.85L194.1,417.1L194.1,416.1Z" fill="#000"/>
<text x="215.6" y="432.40000000000003" font-size="11.5" letter-spacing="0.8" font-weight="bold" fill="#0a0af5">A3</text>
<g font-size="9" fill="#111"><text x="131.40" y="584.4">T</text><text x="143.20" y="584.4">/</text><text x="153.60" y="584.4">°C</text></g>
<g transform="translate(10.90,515.90) rotate(-90)" fill="#000" stroke="#000" stroke-width="0.1" font-size="8.6"><text x="0" y="0">dα.dt</text><text x="19.9" y="-4.6" font-size="4.8">-1</text><text x="30.9" y="0">/</text><text x="40.6" y="0">s</text><text x="45.3" y="-4.6" font-size="4.8">-1</text></g></g>
<g id="Cp"><line x1="310.9" y1="556.60" x2="509.5" y2="556.60" stroke="#f00" stroke-width="1.3"/>
<polyline points="382.00,556.31 383.79,555.94 384.98,555.35 385.97,554.39 386.77,552.97 387.36,551.23 387.96,548.52 388.55,544.26 388.95,540.14 389.74,527.15 390.34,511.57 390.94,489.97 392.13,439.39 392.52,428.03 392.72,424.66 392.92,423.01 393.12,423.06 393.32,424.73 393.72,432.07 395.50,486.09 396.10,500.59 396.70,512.05 397.29,520.93 398.09,529.70 398.88,535.94 399.87,541.39 400.47,543.78 401.06,545.71 401.66,547.28 402.45,548.94 403.25,550.24 404.24,551.49 405.24,552.44 406.43,553.30 407.62,553.95 409.01,554.51 410.60,554.99 412.58,555.41 417.15,555.96 423.51,556.31" fill="none" stroke="#000" stroke-width="1.05"/>
<polyline points="387.76,556.31 389.55,555.96 390.94,555.31 391.93,554.38 392.72,553.05 393.52,550.77 394.11,547.99 394.71,543.74 395.11,539.71 395.70,531.14 396.30,518.49 396.89,500.89 398.48,442.79 398.88,434.10 399.08,431.78 399.28,430.89 399.48,431.41 399.67,433.21 400.07,440.04 402.06,492.83 402.65,505.26 403.25,515.18 403.84,522.98 404.64,530.83 405.63,537.69 406.63,542.40 407.82,546.23 408.61,548.06 409.41,549.49 410.20,550.63 411.19,551.74 412.19,552.60 413.38,553.39 414.77,554.07 416.16,554.59 417.75,555.02 419.73,555.41 424.50,555.96 431.25,556.31" fill="none" stroke="#f00" stroke-width="1.05"/>
<polyline points="393.91,556.30 395.70,555.97 397.09,555.39 397.69,554.96 398.28,554.35 399.08,553.10 399.87,551.01 400.47,548.54 401.06,544.85 401.46,541.43 402.26,531.24 402.85,519.63 403.65,497.76 405.04,452.12 405.63,440.67 405.83,439.09 406.03,438.68 406.23,439.42 406.43,441.20 406.82,447.35 408.81,494.17 409.41,505.63 410.20,517.66 410.99,526.57 411.79,533.14 412.78,539.03 413.77,543.16 414.37,545.05 415.16,547.07 415.96,548.65 416.75,549.91 417.55,550.92 418.54,551.92 419.73,552.84 420.92,553.54 422.31,554.16 423.90,554.69 425.69,555.12 427.68,555.47 432.64,555.98 439.39,556.30" fill="none" stroke="#000" stroke-width="1.05"/>
<polyline points="402.45,556.32 404.44,556.00 405.83,555.50 407.02,554.65 408.02,553.37 408.81,551.64 409.41,549.67 410.00,546.82 410.60,542.71 411.39,534.35 412.19,521.34 412.98,502.71 414.57,459.32 415.16,450.23 415.36,448.93 415.56,448.55 415.76,449.05 415.96,450.36 416.36,455.09 418.54,498.06 419.14,507.97 419.93,518.63 420.73,526.76 421.72,534.20 422.71,539.47 423.90,543.89 424.50,545.55 425.29,547.36 426.09,548.80 427.08,550.21 428.07,551.31 429.07,552.18 430.26,552.99 431.65,553.71 433.24,554.32 434.83,554.78 438.80,555.51 443.96,555.99 451.11,556.30" fill="none" stroke="#f00" stroke-width="1.05" stroke-dasharray="5.5 2.5"/>
<polyline points="409.60,556.32 411.59,556.01 413.18,555.47 414.37,554.66 415.36,553.48 416.16,551.94 416.95,549.51 417.55,546.81 418.14,543.00 418.94,535.47 419.73,524.11 420.53,508.16 422.31,465.68 422.91,457.57 423.11,456.28 423.31,455.73 423.51,455.91 423.70,456.77 424.30,462.85 426.68,503.81 427.28,512.22 428.07,521.37 428.87,528.47 429.86,535.10 431.05,540.69 432.24,544.56 433.04,546.49 433.83,548.03 434.63,549.29 435.62,550.54 436.61,551.52 437.81,552.45 439.00,553.16 440.39,553.81 441.98,554.37 443.76,554.84 447.93,555.54 453.49,556.01 460.84,556.30" fill="none" stroke="#000" stroke-width="1.05"/>
<polyline points="310.90,556.60 412.19,556.53 416.16,556.40 418.74,556.12 420.73,555.58 422.12,554.78 422.91,554.00 423.70,552.84 424.30,551.59 424.90,549.87 425.49,547.51 425.89,545.45 426.49,541.43 426.88,537.97 427.68,528.70 428.27,519.35 430.66,471.19 431.25,464.33 431.45,463.19 431.65,462.65 431.85,462.70 432.05,463.32 432.64,468.09 435.42,509.01 436.42,520.26 437.41,528.72 438.60,536.01 439.39,539.59 440.19,542.42 440.98,544.68 441.98,546.90 442.97,548.61 443.96,549.94 445.15,551.19 446.35,552.15 447.74,553.01 449.32,553.74 451.11,554.35 453.30,554.89 455.68,555.31 458.46,555.64 465.01,556.10 474.15,556.37 487.46,556.51 509.50,556.58" fill="none" stroke="#f00" stroke-width="1.05"/>
<rect x="310.9" y="413.8" width="198.60" height="146.90" fill="none" stroke="#7c7c7c" stroke-width="1.5"/>
<path d="M310.90,560.7v3.0M330.76,560.7v1.8M350.62,560.7v3.0M370.48,560.7v1.8M390.34,560.7v3.0M410.20,560.7v1.8M430.06,560.7v3.0M449.92,560.7v1.8M469.78,560.7v3.0M489.64,560.7v1.8M509.50,560.7v3.0M310.9,556.60h-3.0M310.9,546.40h-1.8M310.9,536.20h-3.0M310.9,526.00h-1.8M310.9,515.80h-3.0M310.9,505.60h-1.8M310.9,495.40h-3.0M310.9,485.20h-1.8M310.9,475.00h-3.0M310.9,464.80h-1.8M310.9,454.60h-3.0M310.9,444.40h-1.8M310.9,434.20h-3.0M310.9,424.00h-1.8M310.9,413.80h-3.0" stroke="#444" stroke-width="1.0" fill="none"/>
<g font-size="8.1" fill="#000" stroke="#000" stroke-width="0.25"><text transform="translate(310.90,571.90) scale(0.9,1)" text-anchor="middle">0</text><text transform="translate(350.62,571.90) scale(0.9,1)" text-anchor="middle">100</text><text transform="translate(390.34,571.90) scale(0.9,1)" text-anchor="middle">200</text><text transform="translate(430.06,571.90) scale(0.9,1)" text-anchor="middle">300</text><text transform="translate(469.78,571.90) scale(0.9,1)" text-anchor="middle">400</text><text transform="translate(509.50,571.90) scale(0.9,1)" text-anchor="middle">500</text><text transform="translate(305.60,559.10) scale(0.9,1)" text-anchor="end">0.00</text><text transform="translate(305.60,538.70) scale(0.9,1)" text-anchor="end">0.01</text><text transform="translate(305.60,518.30) scale(0.9,1)" text-anchor="end">0.02</text><text transform="translate(305.60,497.90) scale(0.9,1)" text-anchor="end">0.03</text><text transform="translate(305.60,477.50) scale(0.9,1)" text-anchor="end">0.04</text><text transform="translate(305.60,457.10) scale(0.9,1)" text-anchor="end">0.05</text><text transform="translate(305.60,436.70) scale(0.9,1)" text-anchor="end">0.06</text><text transform="translate(305.60,416.30) scale(0.9,1)" text-anchor="end">0.07</text></g>
<g font-size="6.7" fill="#000" stroke="#000" stroke-width="0.08"><text x="357.80" y="428.80" text-anchor="end">0.5 °C.min</text><text x="358.00" y="424.50" font-size="3.9">-1</text><text x="357.80" y="437.80" text-anchor="end">1 °C.min</text><text x="358.00" y="433.50" font-size="3.9">-1</text><text x="357.80" y="447.40" text-anchor="end">2 °C.min</text><text x="358.00" y="443.10" font-size="3.9">-1</text><text x="357.80" y="456.90" text-anchor="end">5 °C.min</text><text x="358.00" y="452.60" font-size="3.9">-1</text><text x="357.80" y="466.80" text-anchor="end">10 °C.min</text><text x="358.00" y="462.50" font-size="3.9">-1</text><text x="357.80" y="476.10" text-anchor="end">20 °C.min</text><text x="358.00" y="471.80" font-size="3.9">-1</text></g>
<line x1="319.5" y1="423.8" x2="319.5" y2="473.8" stroke="#555" stroke-width="1.0"/><path d="M318.25,473.0L320.75,473.0L320.0,477.3L319.0,477.3Z" fill="#000"/>
<line x1="381.0" y1="418.50" x2="449.6" y2="418.50" stroke="#858585" stroke-width="1.2"/><path d="M448.8,416.95L448.8,419.45L453.1,418.7L453.1,417.7Z" fill="#000"/>
<text x="479.29999999999995" y="432.8" font-size="11.4" font-weight="bold" fill="#0a0af5">C<tspan font-size="7.6" dx="0.6" dy="4.4">p</tspan></text>
<g font-size="9" fill="#111"><text x="394.70" y="584.6">T</text><text x="406.50" y="584.6">/</text><text x="416.90" y="584.6">°C</text></g>
<g transform="translate(278.70,516.70) rotate(-90)" fill="#000" stroke="#000" stroke-width="0.1" font-size="8.6"><text x="0" y="0">dα.dt</text><text x="19.9" y="-4.6" font-size="4.8">-1</text><text x="30.9" y="0">/</text><text x="40.6" y="0">s</text><text x="45.3" y="-4.6" font-size="4.8">-1</text></g></g>
</svg></body></html>
